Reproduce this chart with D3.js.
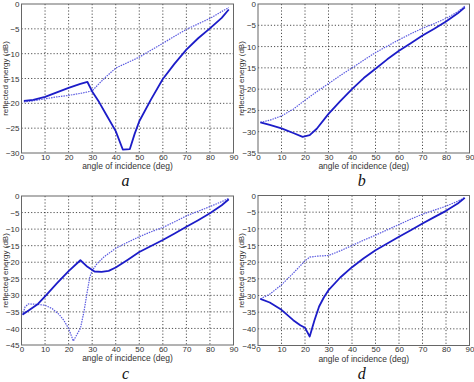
<!DOCTYPE html>
<html><head><meta charset="utf-8">
<script src="https://cdn.jsdelivr.net/npm/d3@7"></script>
<style>body{margin:0;background:#fff}svg{display:block}</style>
</head><body>
<script>
// ---- data ----
const panelLabels = ["a", "b", "c", "d"];
const xTicks = [0, 10, 20, 30, 40, 50, 60, 70, 80, 90];
const yMinA = -30, yMinB = -35, yMinC = -45, yMinD = -45;

const aSolidX = [1, 5, 10, 15, 20, 25, 28, 30, 33, 36, 40, 43, 46, 48, 50, 55, 60, 65, 70, 75, 80, 85, 88];
const aSolidY = [-19.5, -19.3, -18.7, -17.8, -16.9, -16.1, -15.7, -17.6, -19.8, -22.3, -25.6, -29.3, -29.2, -26.2, -23.6, -19.2, -15.1, -12.0, -9.2, -6.9, -4.9, -2.8, -1.1];
const aDotX = [1, 5, 10, 15, 20, 25, 30, 33, 36, 40, 45, 50, 55, 60, 65, 70, 75, 80, 85, 88];
const aDotY = [-19.7, -19.5, -19.1, -18.7, -18.4, -18.0, -17.5, -16.0, -14.6, -12.9, -11.8, -10.7, -9.3, -7.9, -6.5, -5.1, -4.0, -2.9, -1.5, -0.7];

const bSolidX = [1, 5, 10, 15, 19, 22, 25, 30, 35, 40, 45, 50, 55, 60, 65, 70, 75, 80, 85, 88];
const bSolidY = [-27.8, -28.4, -29.2, -30.3, -31.2, -30.8, -29.3, -25.8, -22.8, -20.0, -17.4, -15.2, -13.0, -11.0, -9.2, -7.4, -5.8, -4.1, -2.2, -0.8];
const bDotX = [1, 5, 10, 15, 20, 25, 30, 35, 40, 45, 50, 55, 60, 65, 70, 75, 80, 85, 88];
const bDotY = [-27.8, -27.3, -26.3, -24.7, -22.6, -20.6, -18.7, -16.8, -15.0, -13.2, -11.4, -9.9, -8.4, -7.0, -5.7, -4.6, -3.4, -1.8, -0.5];

const cSolidX = [0.5, 3, 7, 10, 15, 20, 25, 28, 31, 34, 37, 40, 45, 50, 55, 60, 65, 70, 75, 80, 85, 88];
const cSolidY = [-35.8, -34.6, -32.6, -30.3, -26.4, -22.7, -19.4, -21.4, -22.8, -22.9, -22.6, -21.6, -19.3, -16.9, -15.1, -13.3, -11.3, -9.3, -7.3, -5.2, -2.8, -1.0];
const cDotX = [0.5, 1.5, 3, 6, 10, 13, 16, 18, 20, 22, 23, 25, 26.5, 28, 29, 30, 32, 35, 40, 45, 50, 55, 60, 65, 70, 75, 80, 85, 88];
const cDotY = [-36.0, -33.5, -32.6, -32.7, -33.0, -34.0, -35.8, -37.6, -40.0, -43.8, -42.5, -40.0, -35.0, -28.5, -24.5, -22.5, -20.5, -18.4, -15.8, -14.0, -12.3, -10.8, -9.5, -7.8, -6.0, -4.6, -3.2, -1.7, -0.7];

const dSolidX = [1, 5, 10, 15, 18, 20, 21, 22, 24, 26, 28, 30, 35, 40, 45, 50, 55, 60, 65, 70, 75, 80, 85, 88];
const dSolidY = [-31.0, -32.1, -34.3, -37.4, -38.9, -39.7, -41.0, -42.3, -37.5, -33.3, -30.6, -28.4, -24.6, -21.5, -18.8, -16.4, -14.4, -12.4, -10.4, -8.4, -6.5, -4.6, -2.4, -0.7];
const dDotX = [1, 5, 10, 15, 20, 22, 25, 30, 35, 40, 45, 50, 55, 60, 65, 70, 75, 80, 85, 88];
const dDotY = [-31.0, -29.6, -26.8, -23.3, -19.6, -18.5, -18.2, -18.0, -16.6, -15.0, -13.4, -11.9, -10.3, -8.7, -7.1, -5.6, -4.4, -3.2, -1.7, -0.6];

const xLabel = "angle of incidence (deg)";
const yLabel = "reflected energy (dB)";

// ---- layout ----
const W = 474, H = 382;
const svg = d3.select("body").append("svg").attr("width", W).attr("height", H);

const panels = [
  {letter: panelLabels[0], yMin: yMinA, sx: aSolidX, sy: aSolidY, dx: aDotX, dy: aDotY, box: {l: 21.5, r: 233.5, t: 4, b: 153}, lab: {y: 169, ly: 186, yl: 8}},
  {letter: panelLabels[1], yMin: yMinB, sx: bSolidX, sy: bSolidY, dx: bDotX, dy: bDotY, box: {l: 258, r: 469.5, t: 4, b: 153}, lab: {y: 169, ly: 186, yl: 244}},
  {letter: panelLabels[2], yMin: yMinC, sx: cSolidX, sy: cSolidY, dx: cDotX, dy: cDotY, box: {l: 21.5, r: 233.5, t: 196, b: 345}, lab: {y: 361, ly: 379, yl: 8}},
  {letter: panelLabels[3], yMin: yMinD, sx: dSolidX, sy: dSolidY, dx: dDotX, dy: dDotY, box: {l: 258, r: 469.5, t: 195.5, b: 345.5}, lab: {y: 361.5, ly: 378.5, yl: 244}}
];

const solidColor = "#1c1cc8";
const dotColor = "#5a5ae0";
const font = "'Liberation Sans', Arial, sans-serif";

panels.forEach(p => {
  const b = p.box;
  const x = d3.scaleLinear().domain([0, 90]).range([b.l, b.r]);
  const y = d3.scaleLinear().domain([p.yMin, 0]).range([b.b, b.t]);
  const yTicks = d3.range(0, p.yMin - 1, -5);
  const g = svg.append("g");

  // grid
  g.append("g").selectAll("line").data(xTicks.slice(1, -1)).join("line")
    .attr("x1", d => x(d)).attr("x2", d => x(d)).attr("y1", b.t).attr("y2", b.b)
    .attr("stroke", "#222").attr("stroke-width", 0.8).attr("stroke-dasharray", "1.2,2");
  g.append("g").selectAll("line").data(yTicks.slice(1, -1)).join("line")
    .attr("x1", b.l).attr("x2", b.r).attr("y1", d => y(d)).attr("y2", d => y(d))
    .attr("stroke", "#222").attr("stroke-width", 0.8).attr("stroke-dasharray", "1.2,2");

  // axes via d3
  const xa = g.append("g").attr("transform", `translate(0,${b.b})`)
    .call(d3.axisBottom(x).tickValues(xTicks).tickSize(0).tickPadding(1));
  const ya = g.append("g").attr("transform", `translate(${b.l},0)`)
    .call(d3.axisLeft(y).tickValues(yTicks).tickSize(0).tickPadding(2).tickFormat(d3.format("d")));
  [xa, ya].forEach(a => {
    a.select(".domain").remove();
    a.selectAll("text").attr("font-family", font).attr("font-size", 8).attr("fill", "#333");
  });

  // frame
  g.append("rect").attr("x", b.l).attr("y", b.t).attr("width", b.r - b.l).attr("height", b.b - b.t)
    .attr("fill", "none").attr("stroke", "#666").attr("stroke-width", 1);

  const line = d3.line().x(d => x(d[0])).y(d => y(d[1]));
  const dotted = d3.zip(p.dx, p.dy);
  const solid = d3.zip(p.sx, p.sy);
  g.append("path").datum(dotted).attr("d", line).attr("fill", "none")
    .attr("stroke", dotColor).attr("stroke-width", 1.2).attr("stroke-dasharray", "1.5,1");
  g.append("path").datum(solid).attr("d", line).attr("fill", "none")
    .attr("stroke", solidColor).attr("stroke-width", 1.8).attr("stroke-linejoin", "round");

  // labels
  const cx = (b.l + b.r) / 2;
  g.append("text").attr("x", cx).attr("y", p.lab.y).attr("text-anchor", "middle")
    .attr("font-family", font).attr("font-size", 8.5).attr("fill", "#333").text(xLabel);
  g.append("text").attr("transform", `translate(${p.lab.yl},${(b.t + b.b) / 2}) rotate(-90)`)
    .attr("text-anchor", "middle").attr("font-family", font).attr("font-size", 8).attr("fill", "#333").text(yLabel);
  g.append("text").attr("x", cx - 2).attr("y", p.lab.ly).attr("text-anchor", "middle")
    .attr("font-family", "'Liberation Serif', 'Times New Roman', serif").attr("font-style", "italic")
    .attr("font-size", 16).attr("fill", "#111").text(p.letter);
});
</script>
</body></html>
